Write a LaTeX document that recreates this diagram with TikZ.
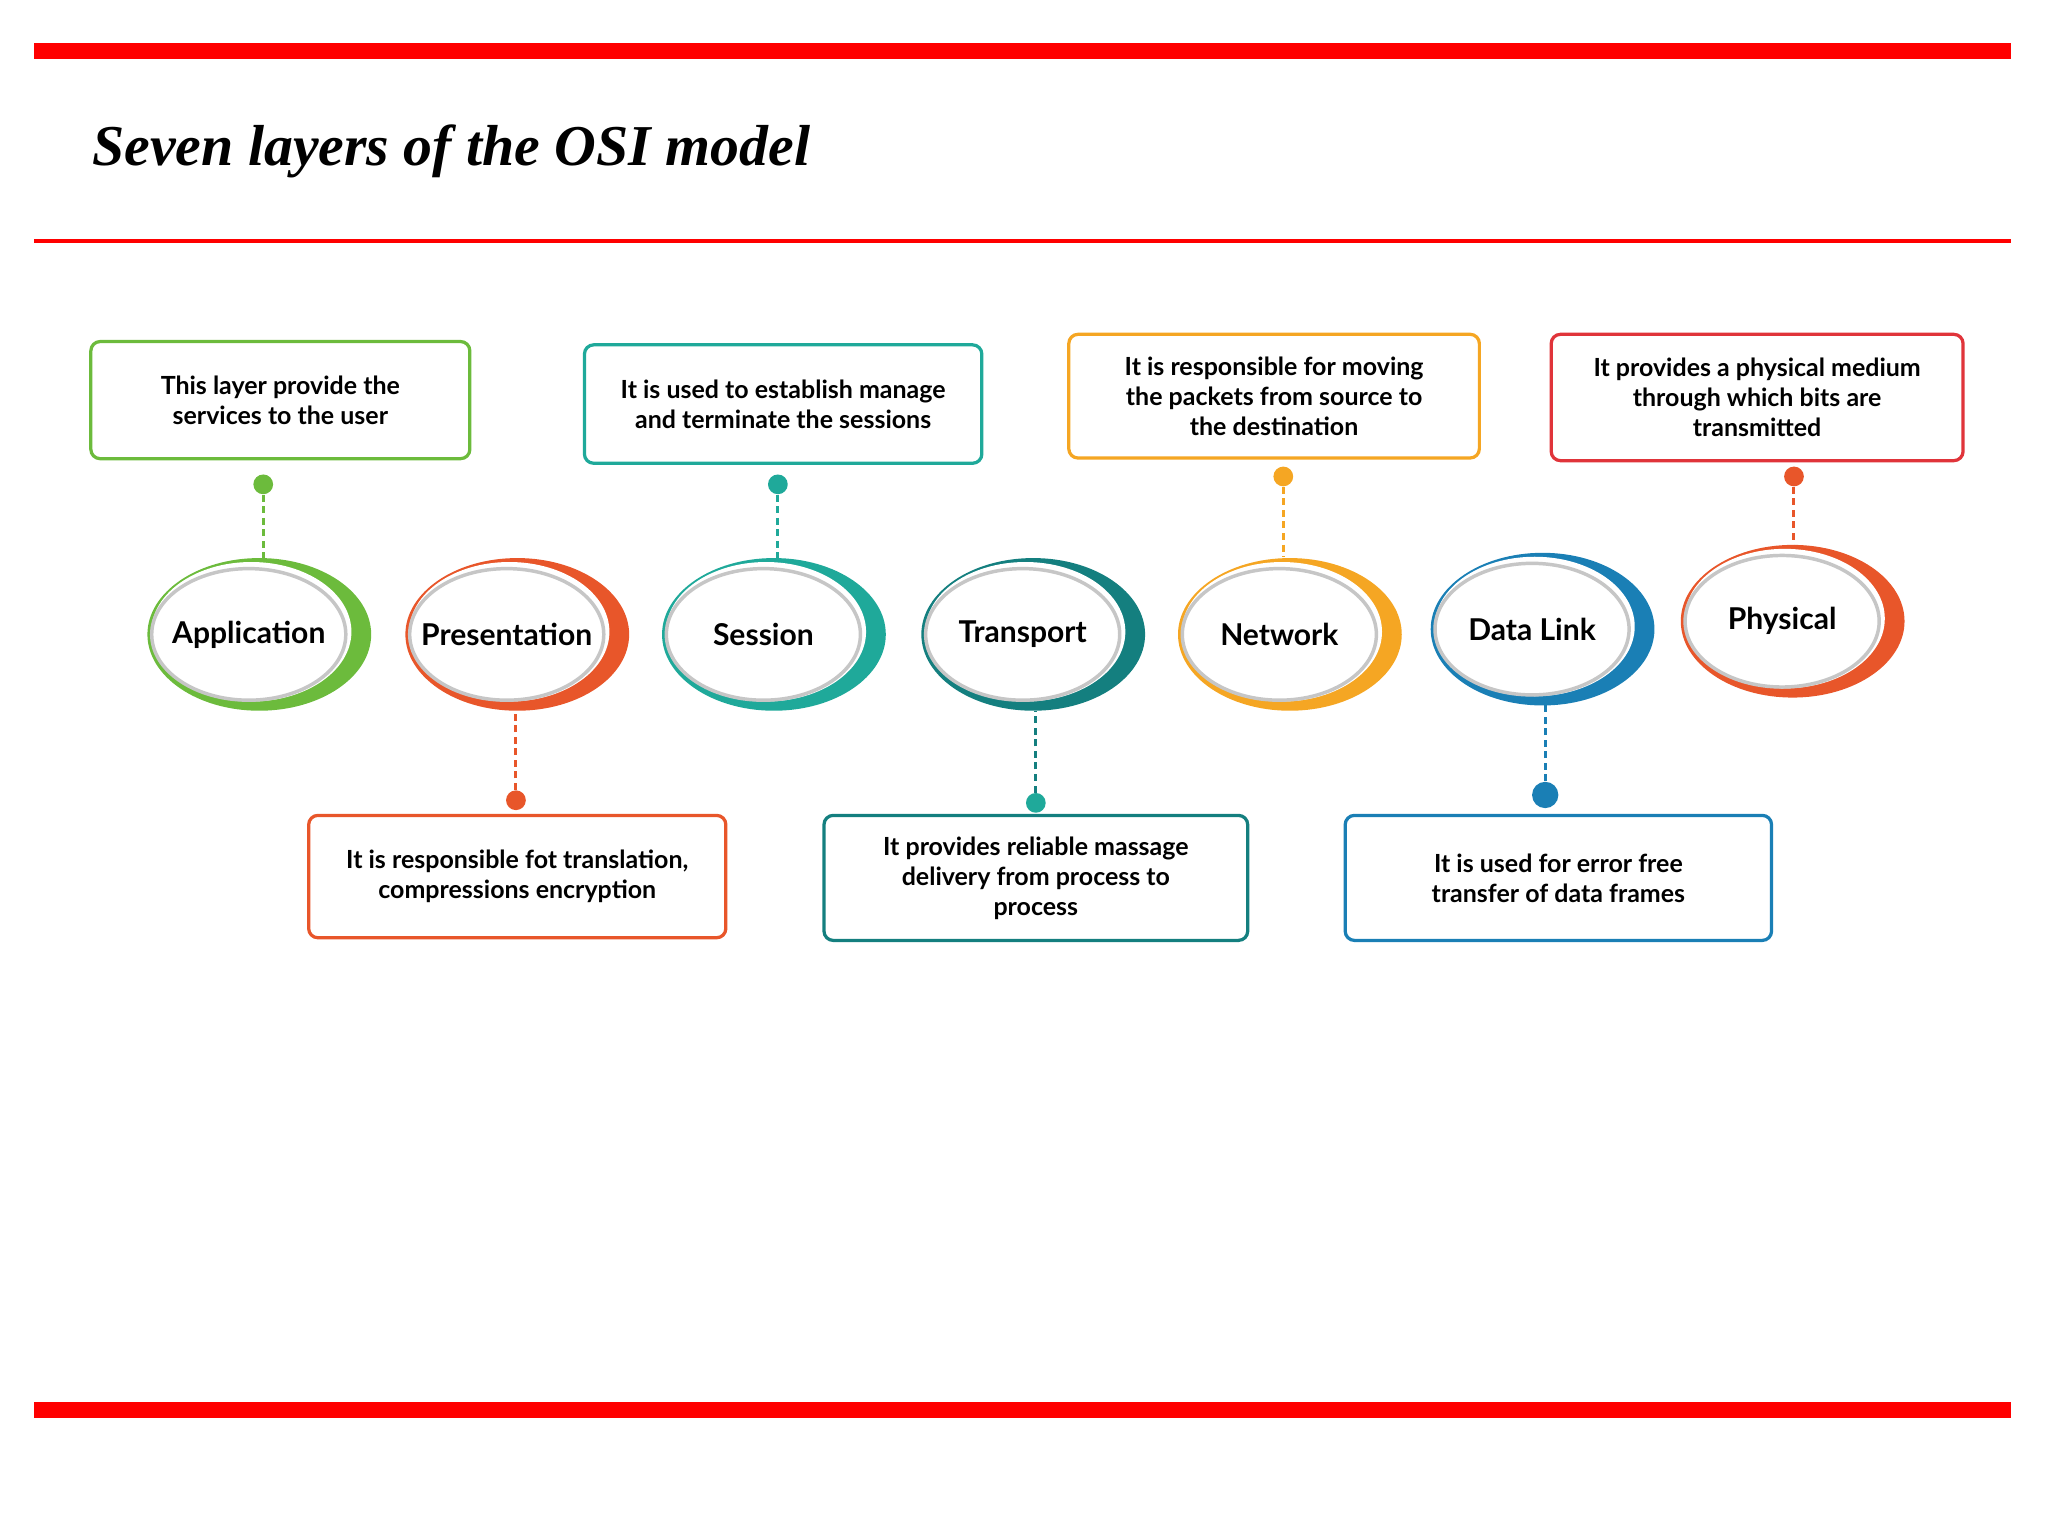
\documentclass[tikz,border=0pt]{standalone}
\usepackage{fontspec}
\setmainfont{Liberation Serif}
\newfontfamily\lbl{Lato}
\usetikzlibrary{shapes.geometric}
\definecolor{cgreen}{HTML}{6CBB3C}
\definecolor{corange}{HTML}{E8562A}
\definecolor{cteal}{HTML}{1FA99A}
\definecolor{cdteal}{HTML}{147F7F}
\definecolor{cyellow}{HTML}{F5A623}
\definecolor{cblue}{HTML}{1A7FB5}
\definecolor{cred}{HTML}{E0343A}
\begin{document}
\begin{tikzpicture}[x=0.02cm,y=-0.02cm,
  box/.style={draw=#1,line width=1.4pt,rounded corners=4pt,align=center,font=\lbl\bfseries\fontsize{10.8}{13}\selectfont,inner sep=2pt},
  layer/.style={ellipse,fill=white,draw=gray!45,line width=1.5pt,minimum width=2.95cm,minimum height=2cm,inner xsep=-12pt,inner ysep=0pt,font=\lbl\bfseries\fontsize{13}{15}\selectfont},
  dot/.style={circle,fill=#1,minimum size=0.3cm,inner sep=0pt},
  conn/.style={draw=#1,line width=1.3pt,dash pattern=on 3pt off 2pt}]
\useasboundingbox (0,0) rectangle (1556,1168);
\fill[red] (26,33) rectangle (1528,45);
\fill[red] (26,1065) rectangle (1528,1077);
\draw[red,line width=2pt] (26,183) -- (1528,183);
\node[anchor=west,font=\bfseries\itshape\fontsize{25}{29}\selectfont] (title) at (64,115) {Seven layers of the OSI model};
\foreach \n/\x/\y/\c/\t in {app/197/482/cgreen/Application,pre/393/482/corange/Presentation,ses/588/482/cteal/Session,tra/785/482/cdteal/Transport,net/980/482/cyellow/Network,dl/1172/478/cblue/Data Link,phy/1362/472/corange/Physical}{
  \fill[\c] (\x,\y) ellipse (85 and 58);
  \fill[white] (\x-6,\y-2) ellipse (76 and 53);
  \node[layer] (\n) at (\x-8,\y) {\t};
}
\node[box=cgreen,minimum width=5.76cm,minimum height=1.78cm] (bapp) at (213,304) {This layer provide the\\services to the user};
\node[box=cteal,minimum width=6.04cm,minimum height=1.8cm] (bses) at (595,307) {It is used to establish manage\\and terminate the sessions};
\node[box=cyellow,minimum width=6.24cm,minimum height=1.88cm] (bnet) at (968,301) {It is responsible for moving\\the packets from source to\\the destination};
\node[box=cred,minimum width=6.26cm,minimum height=1.92cm] (bphy) at (1335,302) {It provides a physical medium\\through which bits are\\transmitted};
\node[box=corange,minimum width=6.34cm,minimum height=1.86cm] (bpre) at (393,666) {It is responsible fot translation,\\compressions encryption};
\node[box=cdteal,minimum width=6.44cm,minimum height=1.9cm] (btra) at (787,667) {It provides reliable massage\\delivery from process to\\process};
\node[box=cblue,minimum width=6.48cm,minimum height=1.9cm] (bdl) at (1184,667) {It is used for error free\\transfer of data frames};
\node[dot=cgreen] (dapp) at (200,368) {};
\node[dot=cteal] (dses) at (591,368) {};
\node[dot=cyellow] (dnet) at (975,362) {};
\node[dot=corange] (dphy) at (1363,362) {};
\node[dot=corange] (dpre) at (392,608) {};
\node[dot=cteal] (dtra) at (787,610) {};
\node[dot=cblue,minimum size=0.4cm] (ddl) at (1174,604) {};
\draw[conn=cgreen] (dapp) -- (200,426);
\draw[conn=cteal] (dses) -- (591,426);
\draw[conn=cyellow] (dnet) -- (975,423);
\draw[conn=corange] (dphy) -- (1363,414);
\draw[conn=corange] (dpre) -- (392,540);
\draw[conn=cdteal] (dtra) -- (787,540);
\draw[conn=cblue] (ddl) -- (1174,536);
\end{tikzpicture}
\end{document}
